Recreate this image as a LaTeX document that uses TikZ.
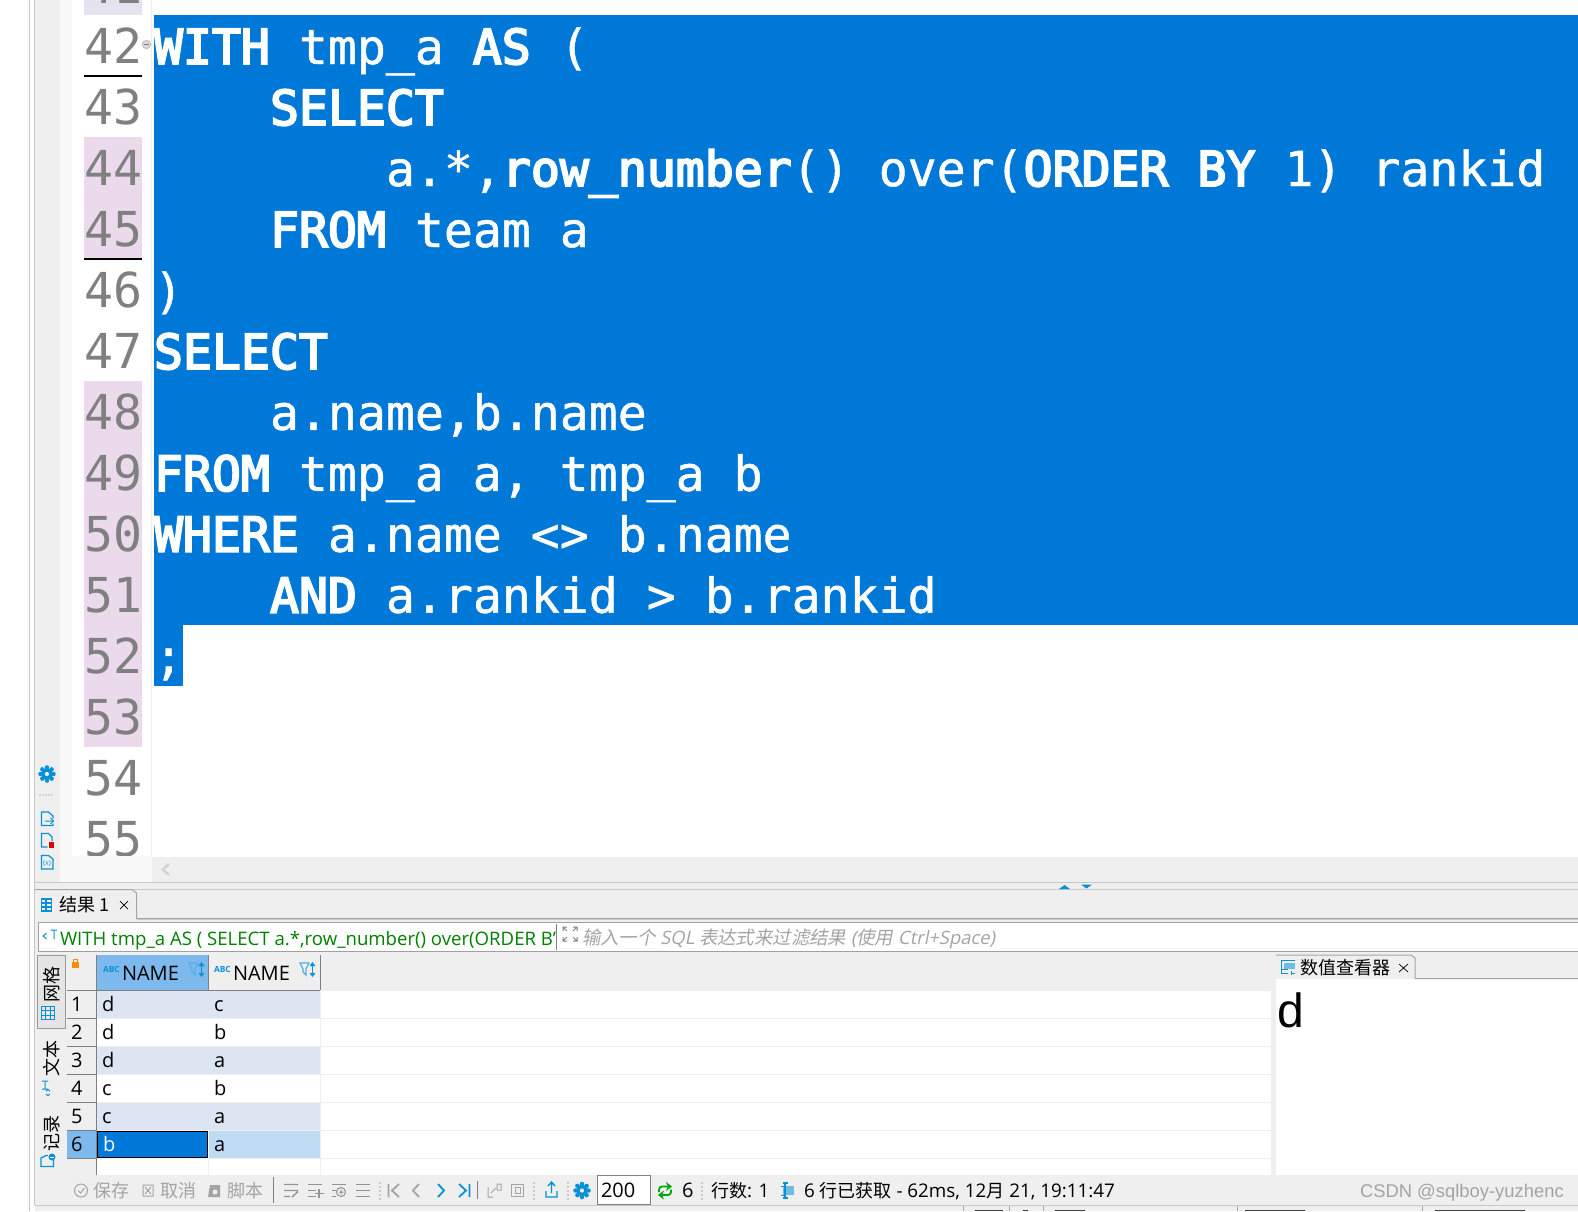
\documentclass[tikz,border=0pt]{standalone}
\usepackage{fontspec}
\usetikzlibrary{arrows.meta}
\setmainfont{Open Sans}
\setmonofont[FakeBold=1]{DejaVu Sans Mono}
\newfontfamily\kwfont[FakeBold=4]{DejaVu Sans Mono}
\newfontfamily\numfont{DejaVu Sans Mono}
\newfontfamily\cjk{Noto Sans CJK SC}
\newfontfamily\cjkit[FakeSlant=0.2]{Noto Sans CJK SC}
\newfontfamily\uiit[FakeSlant=0.2]{Open Sans}
\newfontfamily\arial{Liberation Sans}
\definecolor{sel}{HTML}{0078D7}
\definecolor{panel}{HTML}{EFEFEF}
\definecolor{strip}{HTML}{F8F8F8}
\definecolor{pinkb}{HTML}{EBDAEB}
\definecolor{lav}{HTML}{E4E3EF}
\definecolor{numg}{HTML}{808080}
\definecolor{band}{HTML}{DCE5F1}
\definecolor{hdrb}{HTML}{7DB9EC}
\definecolor{selb}{HTML}{BFDAF3}
\definecolor{lineg}{HTML}{C8C8C8}
\definecolor{icb}{HTML}{0A90D5}
\definecolor{gren}{HTML}{008000}
\definecolor{dim}{HTML}{A4A4A4}
\tikzset{
 code/.style={anchor=base west,inner sep=0,outer sep=0,text=white,font=\ttfamily\fontsize{24.07}{24}\selectfont},
 lnum/.style={anchor=base west,inner sep=0,outer sep=0,text=numg,font=\numfont\fontsize{24.07}{24}\selectfont},
 ui/.style={anchor=base west,inner sep=0,outer sep=0,text=black,font=\fontsize{10}{10}\selectfont},
 uis/.style={anchor=base west,inner sep=0,outer sep=0,text=black,font=\fontsize{9.4}{10}\selectfont},
 cjkt/.style={anchor=west,inner sep=0,outer sep=0,text=black,font=\cjk\fontsize{9}{9}\selectfont},
 dimt/.style={cjkt,text=dim},
 vert/.style={anchor=center,inner sep=0,outer sep=0,text=black,rotate=90,font=\cjk\fontsize{9}{9}\selectfont},
 ic/.style={draw=icb,line width=.5pt},
 icd/.style={draw=dim,line width=.5pt},
 tool/.style={draw=numg!85,line width=.7pt},
 sep/.style={draw=lineg,line width=.6pt},
}
\newcommand{\kw}[1]{{\kwfont #1}}
\newcommand{\cj}[1]{{\cjk\fontsize{9}{9}\selectfont #1}}
\newcommand{\gearat}[3]{%
  \foreach \a in {0,45,...,315}{\fill[icb] (#1,#2) ++(\a:6.6) circle (2.2);}
  \fill[icb] (#1,#2) circle (5.8);
  \fill[#3] (#1,#2) circle (2.1);}
\begin{document}
\begin{tikzpicture}[x=.5pt,y=-.5pt]
\clip (0,0) rectangle (1578,1211);
\fill[white] (0,0) rectangle (1578,1211);
% left chrome
\fill[panel] (35,0) rectangle (60,890);
\fill[strip] (60,0) rectangle (72,890);
\draw[sep] (29.5,0) -- (29.5,1211);
\draw[sep] (34.5,0) -- (34.5,1205);
\draw[draw=panel,line width=.5pt] (151.5,0) -- (151.5,856);
% gutter highlights
\fill[lav] (84,0) rectangle (142,15);
\fill[pinkb] (84,137) rectangle (142,259);
\fill[pinkb] (84,381) rectangle (142,747);
\fill[black] (84,75) rectangle (142,77);
\fill[black] (84,258) rectangle (142,260);
% line numbers
\foreach \n [count=\i from 0] in {41,42,43,44,45,46,47,48,49,50,51,52,53,54,55}{
  \node[lnum] (ln\n) at (84.5,{3+60.97*\i}) {\n};
}
% selection
\fill[sel] (154,15) rectangle (1578,624.5);
\fill[sel] (154,624) rectangle (183,685.5);
\filldraw[fill=lineg!70,draw=numg!60,line width=.3pt] (146.5,44.5) circle (4.2);
\draw[numg,line width=.4pt] (144,44.5) -- (149,44.5);
% code
\node[code] (c42) at (154,64) {\kw{WITH} tmp\_a \kw{AS} (};
\node[code] (c43) at (270,125) {\kw{SELECT}};
\node[code] (c44) at (386,186) {a.*,\kw{row\_number}() over(\kw{ORDER BY} 1) rankid};
\node[code] (c45) at (270,247) {\kw{FROM} team a};
\node[code] (c46) at (154,307.9) {)};
\node[code] (c47) at (154,368.9) {\kw{SELECT}};
\node[code] (c48) at (270,429.8) {a.name,b.name};
\node[code] (c49) at (154,490.8) {\kw{FROM} tmp\_a a, tmp\_a b};
\node[code] (c50) at (154,551.7) {\kw{WHERE} a.name <> b.name};
\node[code] (c51) at (270,612.7) {\kw{AND} a.rankid > b.rankid};
\node[code] (c52) at (154,673.7) {;};
% scrollbar
\fill[strip] (60,856) rectangle (152,882);
\fill[panel] (35,856) rectangle (60,890);
\fill[panel] (152,857) rectangle (1578,882);
\draw[draw=lineg!80,line width=1.2pt] (169,864) -- (163,869.5) -- (169,875);
% panel background
\fill[panel] (35,882) rectangle (1578,1205);
\draw[sep] (35,882.5) -- (1578,882.5);
\draw[sep] (35,889.5) -- (1578,889.5);
\fill[icb] (1059,889) -- (1064.5,885) -- (1070,889) -- cycle;
\fill[icb] (1081,884.5) -- (1086.5,888.5) -- (1092,884.5) -- cycle;
% result tab
\draw[draw=numg!70,line width=.5pt] (35,889.5) -- (132,889.5) -- (136.5,893) -- (136.5,918.5) -- (1578,918.5);
\draw[draw=lineg,line width=.5pt] (136.5,919.5) -- (1578,919.5);
\draw[ic,line width=.6pt] (41.5,899) rectangle (51.5,911) (41.5,903) -- (51.5,903) (41.5,907) -- (51.5,907) (46,899) -- (46,911);
\node[cjkt] (tabres) at (59,905) {结果 1};
\draw[draw=black,line width=.35pt] (120,901) -- (128,909) (120,909) -- (128,901);
% filter bar
\fill[white] (38,922) rectangle (1578,951);
\draw[draw=lineg!80!black,line width=.5pt] (1578,922.5) -- (38.5,922.5) -- (38.5,951.5) -- (1578,951.5);
\draw[draw=icb,line width=.5pt] (46.5,933) -- (43,936) -- (46.5,939) (54,930) -- (54,939) (50.5,930) -- (57,930);
\node[ui,text=gren,font=\fontsize{9.3}{10}\selectfont] (flt) at (60,945) {WITH tmp\_a AS ( SELECT a.*,row\_number() over(ORDER B'};
\draw[draw=numg,line width=.4pt] (556.5,924) -- (556.5,950);
\draw[draw=numg,line width=.5pt] (563,931) -- (563,927) -- (567,927) (573,927) -- (577,927) -- (577,931) (563,937) -- (563,941) -- (567,941) (573,941) -- (577,941) -- (577,937) (563,927) -- (567,931) (577,927) -- (573,931) (563,941) -- (567,937) (577,941) -- (573,937);
\node[anchor=base west,inner sep=0,outer sep=0,text=dim,font=\fontsize{9.2}{9.5}\selectfont] (hint) at (582,944) {{\cjkit 输入一个} {\uiit SQL} {\cjkit 表达式来过滤结果} {\uiit (}{\cjkit 使用} {\uiit Ctrl+Space)}};
% vertical tabs
\fill[fill=black!10] (37,955) rectangle (65,1028);
\draw[draw=numg!80,line width=.5pt] (37.5,1028) -- (37.5,955.5) -- (65,955.5) -- (65,1028) -- cycle;
\node[vert] (vt1) at (52,984) {网格};
\draw[ic] (41,1006) rectangle (54,1019) (41,1010.5) -- (54,1010.5) (41,1015) -- (54,1015) (45.5,1006) -- (45.5,1019) (50,1006) -- (50,1019);
\node[vert] (vt2) at (52,1058.5) {文本};
\draw[ic] (42,1081) -- (48,1081) (45,1081) -- (45,1089) (42,1089) -- (48,1089) (46,1091) -- (48,1089.5) -- (50,1091) (46,1094) -- (48,1095.5) -- (50,1094);
\node[vert] (vt3) at (52,1133) {记录};
\draw[ic,line width=.6pt] (48,1155.5) -- (46,1155.5) -- (41,1158) -- (41,1166.5) -- (53.5,1166.5) -- (53.5,1160);
\fill[icb] (52,1157) circle (3.5);
\fill[white] (50,1156.5) rectangle (54,1157.5);
% left rail icons
\gearat{47}{774}{panel}
\foreach \xx in {40,43,46,49,52}{\fill[numg] (\xx,795) circle (.7);}
\draw[ic,line width=.6pt] (53,818.5) -- (53,816) -- (48.5,812) -- (41.5,812) -- (41.5,825.5) -- (53,825.5) -- (53,823.5);
\draw[ic] (45,821) -- (53.5,821) (50.5,818) -- (53.5,821) -- (50.5,824);
\draw[ic,line width=.6pt] (52,841) -- (52,837) -- (48.5,833.5) -- (41.5,833.5) -- (41.5,847) -- (47.5,847);
\fill[red!85!black] (49,842) rectangle (54,848);
\draw[ic,line width=.6pt] (41.5,855.5) -- (48.5,855.5) -- (53,859) -- (53,869) -- (41.5,869) -- cycle;
\node[inner sep=0,outer sep=0,text=icb,font=\fontsize{3.5}{3.5}\selectfont] (vx) at (47,863.5) {(x)};
% result table
\fill[white] (96,991) rectangle (1271,1175);
\fill[panel] (67,955) rectangle (96,1175);
\fill[hdrb] (96.5,955) rectangle (208.5,991);
\foreach \r in {0,2,4}{\fill[band] (97,{991+28*\r}) rectangle (320,{1018.5+28*\r});}
\fill[selb] (208.5,1131) rectangle (320,1158.5);
\fill[hdrb] (67,1131) rectangle (96,1158.5);
\fill[sel] (97,1131) rectangle (208,1158);
\draw[draw=black,line width=.5pt] (97.5,1131.5) rectangle (207.5,1157.5);
% grid
\foreach \r in {0,...,6}{
  \draw[draw=numg,line width=.5pt] (67,{990.5+28*\r}) -- (96,{990.5+28*\r});
}
\foreach \r in {1,...,6}{
  \draw[draw=panel,line width=.5pt] (96,{990.5+28*\r}) -- (1271,{990.5+28*\r});
}
\draw[draw=numg,line width=.5pt] (67,990.5) -- (320,990.5);
\draw[draw=numg,line width=.5pt] (96.5,955) -- (96.5,1175);
\draw[draw=numg,line width=.5pt] (208.5,955) -- (208.5,990);
\draw[draw=numg,line width=.5pt] (320.5,955) -- (320.5,990);
\draw[draw=panel,line width=.5pt] (208.5,1159) -- (208.5,1175) (320.5,991) -- (320.5,1175);
\fill[orange!90!yellow] (72,962) rectangle (78.5,967.5);
\draw[draw=orange!90!yellow,line width=.5pt] (73.5,962) -- (73.5,959.5) -- (77,959.5) -- (77,962);
\foreach \xx/\nm in {122/hA,233/hB}{
  \node[ui,font=\fontsize{10}{10}\selectfont] (\nm) at (\xx,980) {NAME};
  \node[inner sep=0,outer sep=0,anchor=base west,text=icb,font=\bfseries\fontsize{4.2}{5}\selectfont] (\nm i) at ({\xx-19},972.5) {ABC};
  \draw[draw=icb!70,line width=.6pt] ({\xx+67},963) -- ({\xx+76},963) -- ({\xx+73},969) -- ({\xx+73},975) -- ({\xx+70},972) -- ({\xx+70},969) -- cycle;
  \draw[draw=icb,line width=.6pt] ({\xx+79.5},964) -- ({\xx+79.5},975);
  \fill[icb] ({\xx+76.5},966) -- ({\xx+79.5},962) -- ({\xx+82.5},966) -- cycle;
  \fill[icb] ({\xx+76.5},973) -- ({\xx+79.5},977) -- ({\xx+82.5},973) -- cycle;
}
\foreach \r/\a/\b [count=\i from 0] in {1/d/c,2/d/b,3/d/a,4/c/b,5/c/a}{
  \node[ui] (rn\r) at (71,{1011+28*\i}) {\r};
  \node[ui] (ca\r) at (102,{1011+28*\i}) {\a};
  \node[ui] (cb\r) at (214,{1011+28*\i}) {\b};
}
\node[ui] (rn6) at (71,1151) {6};
\node[ui,text=white] (ca6) at (103,1151) {b};
\node[ui] (cb6) at (214,1151) {a};
% value viewer
\fill[white] (1276,979) rectangle (1578,1175);
\draw[draw=numg!70,line width=.5pt] (1276,955) -- (1411,955) -- (1415,958) -- (1415,978.5) -- (1578,978.5);
\draw[ic,line width=.7pt] (1295,960.5) -- (1281.5,960.5) -- (1281.5,973.5) -- (1288,973.5) (1281.5,969.5) -- (1288,969.5);
\fill[icb!60] (1284,963) rectangle (1295,969);
\draw[ic] (1291,971) -- (1291,975) (1291,973) -- (1295,973);
\node[cjkt] (vv) at (1300,968) {数值查看器};
\draw[draw=black,line width=.35pt] (1399,964) -- (1408,972) (1399,972) -- (1408,964);
\node[anchor=base west,inner sep=0,outer sep=0,font=\arial\fontsize{24}{24}\selectfont] (vd) at (1277,1027) {d};
% status toolbar
\draw[icd] (81,1190.5) circle (6.5);
\draw[icd] (78,1190.5) -- (80.5,1193) -- (84.5,1188);
\node[dimt] (b1) at (93,1191) {保存};
\draw[icd] (143,1185) rectangle (153,1196) (145,1187) -- (151,1194) (145,1194) -- (151,1187);
\node[dimt] (b2) at (160,1191) {取消};
\fill[dim] (210,1185) -- (220,1185) -- (220,1197) -- (208,1197) -- cycle;
\fill[panel] (215,1192) circle (2.5);
\node[dimt] (b3) at (227,1191) {脚本};
\draw[draw=numg,line width=.5pt] (273.5,1177) -- (273.5,1203);
\draw[tool] (284,1184.5) -- (298,1184.5) (284,1190.5) -- (298,1190.5) (284,1196.5) -- (290,1196.5) (292,1197) -- (298,1191.5);
\draw[tool] (308,1184.5) -- (322,1184.5) (308,1190.5) -- (316,1190.5) (308,1196.5) -- (316,1196.5) (319,1189) -- (319,1198) (314.5,1193.5) -- (323.5,1193.5);
\draw[tool] (332,1184.5) -- (346,1184.5) (332,1190.5) -- (336,1190.5) (332,1196.5) -- (336,1196.5);
\draw[tool,line width=.5pt] (341,1192) circle (4.5) (338.5,1192) -- (343.5,1192) (341,1189.5) -- (341,1194.5);
\draw[tool] (356,1184.5) -- (370,1184.5) (356,1190.5) -- (364,1190.5) (356,1196.5) -- (370,1196.5) (364,1190.5) -- (370,1190.5);
\foreach \xx in {380,534,568,702}{
  \foreach \d in {0,4,8,12,16}{\fill[dim] (\xx,{1183+\d}) circle (.9);}
}
\draw[draw=dim,line width=.9pt] (388.5,1184) -- (388.5,1197) (399,1184) -- (392,1190.5) -- (399,1197);
\draw[draw=dim,line width=.9pt] (419,1184) -- (413,1190.5) -- (419,1197);
\draw[draw=icb,line width=.9pt] (438,1184) -- (444,1190.5) -- (438,1197);
\draw[draw=icb,line width=.9pt] (459,1184) -- (466,1190.5) -- (459,1197) (469.5,1184) -- (469.5,1197);
\draw[draw=numg,line width=.4pt] (477.5,1181) -- (477.5,1199);
\draw[icd] (488,1187) -- (488,1197) -- (493,1197) (491,1193) -- (496,1188) (497,1184) rectangle (501,1190);
\draw[icd] (511,1184) rectangle (523,1196) (515,1187) rectangle (520,1193);
\draw[ic,line width=.7pt] (546,1191) -- (546,1197) -- (557,1197) -- (557,1191) (551.5,1193) -- (551.5,1182) (548,1186) -- (551.5,1182) -- (555,1186);
\gearat{582}{1190.5}{panel}
\fill[white] (597,1175) rectangle (651,1205);
\draw[draw=numg,line width=.5pt] (597.5,1175.5) rectangle (650.5,1204.5);
\node[ui] (lim) at (601,1197.5) {200};
\draw[draw=green!65!black,line width=.9pt,rounded corners=1.5pt,-{Stealth[length=3pt,width=4.5pt]}] (659,1192) -- (659,1186.5) -- (672,1186.5);
\draw[draw=green!65!black,line width=.9pt,rounded corners=1.5pt,-{Stealth[length=3pt,width=4.5pt]}] (671,1189.5) -- (671,1195) -- (658,1195);
\node[ui] (cnt) at (682,1197.5) {6};
\node[uis] (rows) at (711,1197.5) {\cj{行数}: 1};
\fill[icb!60] (783,1186) rectangle (794,1195);
\draw[ic] (781,1186) -- (786,1186) (781,1195) -- (786,1195);
\draw[ic,line width=.7pt] (785,1183) -- (785,1198) (782.5,1183) -- (787.5,1183) (782.5,1198) -- (787.5,1198);
\node[uis] (stat) at (804,1197.5) {6 \cj{行已获取} - 62ms, 12\cj{月} 21, 19:11:47};
\node[anchor=base west,inner sep=0,outer sep=0,text=dim,font=\arial\fontsize{9.2}{9.5}\selectfont] (wm) at (1360,1197.5) {CSDN @sqlboy-yuzhenc};
\fill[panel] (35,1205) rectangle (1578,1211);
\draw[sep] (35,1205.5) -- (1578,1205.5);
\foreach \xx in {963,1009,1043,1237,1422}{\draw[draw=numg!70,line width=.5pt] (\xx,1206) -- (\xx,1211);}
\foreach \xa/\xb in {975/1003,1023/1028,1055/1085,1245/1305,1435/1525}{\fill[black!75] (\xa,1209.5) rectangle (\xb,1211);}
\end{tikzpicture}
\end{document}
